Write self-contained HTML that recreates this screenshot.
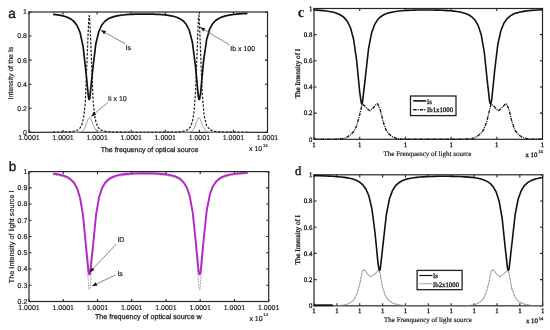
<!DOCTYPE html>
<html><head><meta charset="utf-8"><style>
html,body{margin:0;padding:0;background:#fff;}
svg{display:block;}
text{fill:#1a1a1a;text-rendering:geometricPrecision;}
.s7{font-family:"Liberation Sans",Arial,sans-serif;font-size:7px;stroke:#1a1a1a;stroke-width:0.18px;}
.s7l{font-family:"Liberation Sans",Arial,sans-serif;font-size:7.0px;stroke:#1a1a1a;stroke-width:0.25px;}
.sup{font-family:"Liberation Sans",Arial,sans-serif;font-size:4.3px;stroke:#1a1a1a;stroke-width:0.15px;}
.big{font-family:"Liberation Sans",Arial,sans-serif;font-size:13.5px;fill:#111;stroke:#111;stroke-width:0.3px;}
.t7{font-family:"Liberation Serif","Times New Roman",serif;font-size:6.8px;stroke:#1a1a1a;stroke-width:0.3px;}
.t7l{font-family:"Liberation Serif","Times New Roman",serif;font-size:7.0px;stroke:#1a1a1a;stroke-width:0.18px;}
.tsup{font-family:"Liberation Serif","Times New Roman",serif;font-size:4.5px;stroke:#1a1a1a;stroke-width:0.25px;}
.bigc{font-family:"Liberation Serif","Times New Roman",serif;font-size:15px;font-weight:bold;fill:#111;}
.bigd{font-family:"Liberation Serif","Times New Roman",serif;font-size:12.7px;fill:#111;stroke:#111;stroke-width:0.35px;}
path{fill:none;}
.isa{stroke:#111;stroke-width:1.7px;}
.ib{stroke:#1e1e1e;stroke-width:1.2px;stroke-dasharray:2.4,1.5;}
.ii{stroke:#999;stroke-width:0.9px;}
.isb{stroke:#666;stroke-width:0.8px;stroke-dasharray:0.8,0.8;}
.id{stroke:#b526c4;stroke-width:1.9px;}
.isc{stroke:#111;stroke-width:1.6px;}
.ibc{stroke:#1e1e1e;stroke-width:1.4px;stroke-dasharray:3.5,1,1,1;}
.ibd{stroke:#7a7a7a;stroke-width:1.1px;stroke-dasharray:1,0.5;}
</style></head><body>
<svg width="550" height="330" viewBox="0 0 550 330">
<rect width="550" height="330" fill="#fff"/>
<rect x="29" y="12" width="238.50" height="120.30" fill="none" stroke="#262626" stroke-width="1.2"/>
<path d="M29.00,132.3v-2.6M29.00,12v2.6M63.07,132.3v-2.6M63.07,12v2.6M97.14,132.3v-2.6M97.14,12v2.6M131.21,132.3v-2.6M131.21,12v2.6M165.29,132.3v-2.6M165.29,12v2.6M199.36,132.3v-2.6M199.36,12v2.6M233.43,132.3v-2.6M233.43,12v2.6M267.50,132.3v-2.6M267.50,12v2.6M29,132.30h2.6M267.5,132.30h-2.6M29,108.24h2.6M267.5,108.24h-2.6M29,84.18h2.6M267.5,84.18h-2.6M29,60.12h2.6M267.5,60.12h-2.6M29,36.06h2.6M267.5,36.06h-2.6M29,12.00h2.6M267.5,12.00h-2.6" stroke="#262626" stroke-width="1.1" fill="none"/>
<path class="ii" d="M53.00,132.30 56.02,132.30 59.03,132.30 62.05,132.30 65.07,132.30 68.08,132.30 71.10,132.30 74.11,132.30 77.13,132.30 80.15,132.20 82.68,131.25 84.82,128.08 87.83,119.66 89.00,117.56 89.58,117.26 90.17,117.53 93.18,124.93 96.01,130.76 99.02,132.19 102.04,132.30 105.05,132.30 108.07,132.30 111.09,132.30 114.10,132.30 117.12,132.30 120.14,132.30 123.15,132.30 126.17,132.30 129.18,132.30 132.20,132.30 135.22,132.30 138.23,132.30 141.25,132.30 144.27,132.30 147.28,132.30 150.30,132.30 153.31,132.30 156.33,132.30 159.35,132.30 162.36,132.30 165.38,132.30 168.40,132.30 171.41,132.30 174.43,132.30 177.44,132.30 180.46,132.30 183.48,132.30 186.49,132.30 189.51,132.20 192.14,131.23 194.37,127.83 197.39,119.59 198.46,117.86 199.05,117.63 199.73,118.05 202.74,125.56 205.47,130.86 208.48,132.20 211.50,132.30 214.52,132.30 217.53,132.30 220.55,132.30 223.56,132.30 226.58,132.30 229.60,132.30 232.61,132.30 235.63,132.30 238.65,132.30 241.66,132.30 244.68,132.30 247.50,132.30" />
<path class="ib" d="M53.00,132.22 56.02,132.19 59.03,132.16 62.05,132.10 65.07,132.02 68.08,131.89 71.10,131.66 74.11,131.22 77.13,130.27 80.15,127.86 82.09,124.05 83.75,116.96 85.30,102.32 88.32,28.61 88.90,17.57 89.10,15.99 89.20,15.66 89.29,15.64 89.49,16.53 90.27,30.82 93.09,100.79 95.13,119.09 97.56,126.66 100.58,129.85 103.60,131.04 106.61,131.57 109.63,131.84 112.64,131.99 115.66,132.08 118.68,132.14 121.69,132.18 124.71,132.20 127.73,132.22 130.74,132.23 133.76,132.24 136.77,132.25 139.79,132.25 142.81,132.25 145.82,132.25 148.84,132.25 151.86,132.25 154.87,132.24 157.89,132.23 160.90,132.22 163.92,132.20 166.94,132.17 169.95,132.13 172.97,132.07 175.99,131.97 179.00,131.80 182.02,131.50 185.03,130.89 188.05,129.50 190.58,126.59 192.43,121.55 193.99,112.29 195.54,92.12 198.36,19.41 198.66,16.23 198.75,15.76 198.85,15.61 198.95,15.76 199.24,18.08 202.26,93.91 204.20,115.98 206.54,125.41 209.55,129.44 212.57,130.87 215.59,131.49 218.60,131.80 221.62,131.97 224.63,132.07 227.65,132.13 230.67,132.18 233.68,132.21 236.70,132.23 239.72,132.24 242.73,132.25 245.75,132.26 247.50,132.26" />
<path class="isa" d="M53.00,14.30 56.02,14.66 59.03,15.11 62.05,15.70 65.07,16.49 68.08,17.59 71.10,19.18 74.11,21.62 77.13,25.63 80.15,32.79 83.16,46.84 86.18,74.28 88.42,96.82 88.90,98.94 89.20,99.39 89.39,99.32 89.78,98.34 92.80,69.02 95.81,43.98 98.83,31.43 101.84,24.97 104.86,21.32 107.88,19.08 110.89,17.61 113.91,16.61 116.93,15.89 119.94,15.37 122.96,14.98 125.97,14.69 128.99,14.47 132.01,14.31 135.02,14.19 138.04,14.11 141.06,14.06 144.07,14.04 147.09,14.06 150.10,14.10 153.12,14.18 156.14,14.29 159.15,14.45 162.17,14.66 165.19,14.94 168.20,15.32 171.22,15.82 174.23,16.51 177.25,17.47 180.27,18.87 183.28,20.99 186.30,24.43 189.32,30.44 192.33,41.99 195.35,65.23 198.36,96.50 198.95,99.05 199.14,99.35 199.34,99.37 199.63,98.85 200.60,92.94 203.62,60.56 206.63,39.56 209.65,29.15 212.67,23.64 215.68,20.43 218.70,18.42 221.72,17.07 224.73,16.12 227.75,15.42 230.76,14.90 233.78,14.50 236.80,14.17 239.81,13.92 242.83,13.70 245.85,13.53 247.50,13.44" />
<text class="s7" x="27.00" y="134.70" text-anchor="end" >0</text>
<text class="s7" x="27.00" y="110.64" text-anchor="end" >0.2</text>
<text class="s7" x="27.00" y="86.58" text-anchor="end" >0.4</text>
<text class="s7" x="27.00" y="62.52" text-anchor="end" >0.6</text>
<text class="s7" x="27.00" y="38.46" text-anchor="end" >0.8</text>
<text class="s7" x="27.00" y="14.40" text-anchor="end" >1</text>
<text class="s7" x="29.00" y="140.20" text-anchor="middle" >1.0001</text>
<text class="s7" x="63.07" y="140.20" text-anchor="middle" >1.0001</text>
<text class="s7" x="97.14" y="140.20" text-anchor="middle" >1.0001</text>
<text class="s7" x="131.21" y="140.20" text-anchor="middle" >1.0001</text>
<text class="s7" x="165.29" y="140.20" text-anchor="middle" >1.0001</text>
<text class="s7" x="199.36" y="140.20" text-anchor="middle" >1.0001</text>
<text class="s7" x="233.43" y="140.20" text-anchor="middle" >1.0001</text>
<text class="s7" x="267.50" y="140.20" text-anchor="middle" >1.0001</text>
<text class="s7l" x="149.50" y="152.30" text-anchor="middle" >The frequency of optical source</text>
<text class="s7" x="249.00" y="151.30" >x 10</text>
<text class="sup" x="262.90" y="146.60" >14</text>
<text class="s7" transform="translate(12.6,73.1) rotate(-90)" text-anchor="middle" style="font-size:7px">Intensity of the Is</text>
<text class="big" x="8.30" y="17.70" >a</text>
<line x1="125.2" y1="43.7" x2="100.9" y2="30.3" stroke="#555" stroke-width="0.7"/>
<polygon points="100.9,30.3 106.02,30.95 104.19,34.28" fill="#111"/>
<text class="s7" x="125.60" y="50.30" >Is</text>
<line x1="229.6" y1="45" x2="200.2" y2="27.3" stroke="#555" stroke-width="0.7"/>
<polygon points="200.2,27.3 205.29,28.15 203.33,31.40" fill="#111"/>
<text class="s7" x="230.20" y="50.70" >Ib x 100</text>
<line x1="108" y1="102.4" x2="91.2" y2="116.4" stroke="#555" stroke-width="0.7"/>
<polygon points="91.2,116.4 93.67,111.87 96.10,114.79" fill="#111"/>
<text class="s7" x="108.00" y="101.00" >Ii x 10</text>
<rect x="29" y="171.6" width="239.70" height="129.90" fill="none" stroke="#262626" stroke-width="1.2"/>
<path d="M29.00,301.5v-2.6M29.00,171.6v2.6M63.24,301.5v-2.6M63.24,171.6v2.6M97.49,301.5v-2.6M97.49,171.6v2.6M131.73,301.5v-2.6M131.73,171.6v2.6M165.97,301.5v-2.6M165.97,171.6v2.6M200.21,301.5v-2.6M200.21,171.6v2.6M234.46,301.5v-2.6M234.46,171.6v2.6M268.70,301.5v-2.6M268.70,171.6v2.6M29,301.50h2.6M268.7,301.50h-2.6M29,285.26h2.6M268.7,285.26h-2.6M29,269.02h2.6M268.7,269.02h-2.6M29,252.79h2.6M268.7,252.79h-2.6M29,236.55h2.6M268.7,236.55h-2.6M29,220.31h2.6M268.7,220.31h-2.6M29,204.07h2.6M268.7,204.07h-2.6M29,187.84h2.6M268.7,187.84h-2.6M29,171.60h2.6M268.7,171.60h-2.6" stroke="#262626" stroke-width="1.1" fill="none"/>
<path class="isb" d="M53.00,174.67 56.02,175.14 59.04,175.74 62.06,176.52 65.08,177.56 68.10,179.01 71.12,181.09 74.14,184.28 77.15,189.48 80.17,198.71 83.19,216.74 86.21,252.36 88.65,285.93 89.13,288.88 89.43,289.54 89.52,289.56 89.72,289.32 90.21,287.05 93.23,245.94 96.25,213.35 99.26,197.11 102.28,188.71 105.30,183.94 108.32,181.00 111.34,179.07 114.36,177.74 117.38,176.80 120.40,176.11 123.42,175.59 126.44,175.21 129.46,174.91 132.48,174.70 135.50,174.54 138.52,174.43 141.54,174.37 144.55,174.35 147.57,174.37 150.59,174.44 153.61,174.54 156.63,174.70 159.65,174.92 162.67,175.21 165.69,175.59 168.71,176.11 171.73,176.80 174.75,177.75 177.77,179.07 180.79,181.00 183.81,183.95 186.83,188.73 189.85,197.15 192.86,213.42 195.88,246.07 198.81,286.40 199.29,289.08 199.49,289.50 199.59,289.56 199.78,289.40 200.17,287.91 203.19,247.87 206.21,214.31 209.23,197.51 212.25,188.82 215.27,183.89 218.29,180.85 221.30,178.84 224.32,177.44 227.34,176.43 230.36,175.67 233.38,175.09 236.40,174.63 239.42,174.27 242.44,173.97 245.46,173.72 247.70,173.56" />
<path class="id" d="M53.00,173.65 56.02,174.04 59.04,174.55 62.06,175.25 65.08,176.21 68.10,177.59 71.12,179.66 74.14,182.93 77.15,188.42 80.17,198.29 83.19,216.83 86.21,248.41 88.55,271.61 89.13,273.98 89.43,274.39 89.62,274.36 90.01,273.58 93.03,245.53 96.05,214.92 99.07,197.32 102.09,187.95 105.11,182.72 108.13,179.60 111.15,177.63 114.17,176.32 117.19,175.41 120.21,174.77 123.22,174.30 126.24,173.96 129.26,173.71 132.28,173.52 135.30,173.39 138.32,173.30 141.34,173.25 144.36,173.23 147.38,173.24 150.40,173.29 153.42,173.38 156.44,173.50 159.46,173.68 162.48,173.93 165.50,174.26 168.51,174.70 171.53,175.32 174.55,176.18 177.57,177.43 180.59,179.30 183.61,182.24 186.63,187.12 189.65,195.80 192.67,212.04 195.69,241.05 198.61,271.38 199.20,273.89 199.49,274.37 199.68,274.38 199.97,273.96 200.75,270.32 203.77,237.99 206.79,210.14 209.81,194.74 212.83,186.49 215.85,181.80 218.87,178.96 221.89,177.13 224.91,175.89 227.93,175.02 230.95,174.39 233.97,173.91 236.99,173.55 240.01,173.27 243.02,173.04 246.04,172.86 247.70,172.77" />
<text class="s7" x="27.30" y="303.90" text-anchor="end" >0.2</text>
<text class="s7" x="27.30" y="287.66" text-anchor="end" >0.3</text>
<text class="s7" x="27.30" y="271.42" text-anchor="end" >0.4</text>
<text class="s7" x="27.30" y="255.19" text-anchor="end" >0.5</text>
<text class="s7" x="27.30" y="238.95" text-anchor="end" >0.6</text>
<text class="s7" x="27.30" y="222.71" text-anchor="end" >0.7</text>
<text class="s7" x="27.30" y="206.47" text-anchor="end" >0.8</text>
<text class="s7" x="27.30" y="190.24" text-anchor="end" >0.9</text>
<text class="s7" x="27.30" y="174.00" text-anchor="end" >1</text>
<text class="s7" x="29.00" y="309.90" text-anchor="middle" >1.0001</text>
<text class="s7" x="63.24" y="309.90" text-anchor="middle" >1.0001</text>
<text class="s7" x="97.49" y="309.90" text-anchor="middle" >1.0001</text>
<text class="s7" x="131.73" y="309.90" text-anchor="middle" >1.0001</text>
<text class="s7" x="165.97" y="309.90" text-anchor="middle" >1.0001</text>
<text class="s7" x="200.21" y="309.90" text-anchor="middle" >1.0001</text>
<text class="s7" x="234.46" y="309.90" text-anchor="middle" >1.0001</text>
<text class="s7" x="268.70" y="309.90" text-anchor="middle" >1.0001</text>
<text class="s7l" x="148.40" y="318.60" text-anchor="middle" style="font-size:7.15px">The frequency of optical source w</text>
<text class="s7" x="249.40" y="321.00" >x 10</text>
<text class="sup" x="263.30" y="316.20" >14</text>
<text class="s7" transform="translate(13.6,236.8) rotate(-90)" text-anchor="middle" style="font-size:7.25px">The Intensity of light source I</text>
<text class="big" x="8.80" y="171.40" >b</text>
<line x1="116.4" y1="243.8" x2="89.8" y2="272.3" stroke="#555" stroke-width="0.7"/>
<polygon points="89.8,272.3 91.69,267.49 94.46,270.09" fill="#111"/>
<text class="s7" x="117.40" y="241.80" >ID</text>
<line x1="115.4" y1="274.9" x2="92.2" y2="286.1" stroke="#555" stroke-width="0.7"/>
<polygon points="92.2,286.1 95.70,282.30 97.35,285.72" fill="#111"/>
<text class="s7" x="117.40" y="275.70" >Is</text>
<rect x="314" y="8.5" width="228.50" height="130.80" fill="none" stroke="#262626" stroke-width="1.2"/>
<path d="M314.00,139.3v-2.6M314.00,8.5v2.6M359.70,139.3v-2.6M359.70,8.5v2.6M405.40,139.3v-2.6M405.40,8.5v2.6M451.10,139.3v-2.6M451.10,8.5v2.6M496.80,139.3v-2.6M496.80,8.5v2.6M542.50,139.3v-2.6M542.50,8.5v2.6M314,139.30h2.6M542.5,139.30h-2.6M314,113.14h2.6M542.5,113.14h-2.6M314,86.98h2.6M542.5,86.98h-2.6M314,60.82h2.6M542.5,60.82h-2.6M314,34.66h2.6M542.5,34.66h-2.6M314,8.50h2.6M542.5,8.50h-2.6" stroke="#262626" stroke-width="1.1" fill="none"/>
<path class="ibc" d="M314.00,139.30 317.05,139.30 320.10,139.30 323.14,139.30 326.19,139.28 329.24,139.24 332.29,139.17 335.34,139.09 338.38,138.97 341.43,138.67 344.48,138.15 347.53,136.94 350.58,134.76 353.62,131.55 356.67,125.78 359.72,114.73 362.01,104.54 362.29,104.03 365.34,106.41 368.39,109.80 369.82,110.65 372.86,108.23 375.91,104.66 377.15,103.74 377.63,103.84 380.01,108.75 383.05,121.37 386.10,130.24 389.15,134.13 392.20,136.48 395.25,138.01 398.29,138.62 401.34,139.02 404.39,139.18 407.44,139.22 410.49,139.25 413.53,139.27 416.58,139.29 419.63,139.30 422.68,139.30 425.73,139.30 428.77,139.30 431.82,139.30 434.87,139.30 437.92,139.30 440.97,139.30 444.01,139.30 447.06,139.30 450.11,139.30 453.16,139.29 456.21,139.26 459.25,139.21 462.30,139.14 465.35,139.05 468.40,138.87 471.44,138.48 474.49,137.85 477.54,136.12 480.59,133.66 483.64,129.67 486.68,121.83 489.73,109.42 490.88,104.37 491.16,103.99 494.21,106.49 497.26,109.87 498.59,110.65 501.64,108.26 504.69,104.69 505.92,103.74 506.40,103.82 508.78,108.68 511.83,121.27 514.88,130.19 517.93,134.11 520.97,136.46 524.02,138.00 527.07,138.62 530.12,139.02 533.17,139.17 536.21,139.22 539.26,139.25 542.31,139.27 542.50,139.27" />
<path class="isc" d="M314.00,9.93 317.05,10.12 320.10,10.35 323.14,10.63 326.19,10.98 329.24,11.44 332.29,12.03 335.34,12.83 338.38,13.93 341.43,15.51 344.48,17.89 347.53,21.65 350.58,28.01 353.62,39.51 356.67,60.76 359.72,92.11 361.15,102.35 361.62,103.63 361.81,103.77 362.01,103.71 362.39,102.95 365.43,76.85 368.48,49.11 371.53,33.20 374.58,24.62 377.63,19.72 380.67,16.74 383.72,14.82 386.77,13.51 389.82,12.60 392.87,11.93 395.91,11.43 398.96,11.06 402.01,10.77 405.06,10.55 408.11,10.38 411.15,10.24 414.20,10.14 417.25,10.07 420.30,10.02 423.34,9.99 426.39,9.98 429.44,9.99 432.49,10.02 435.54,10.08 438.58,10.15 441.63,10.26 444.68,10.40 447.73,10.58 450.78,10.81 453.82,11.11 456.87,11.50 459.92,12.01 462.97,12.71 466.02,13.67 469.06,15.05 472.11,17.09 475.16,20.28 478.21,25.56 481.26,34.91 484.30,52.29 487.35,81.56 489.54,101.17 490.11,103.34 490.40,103.75 490.59,103.75 490.88,103.37 491.73,99.52 494.78,69.47 497.83,44.51 500.88,30.70 503.92,23.18 506.97,18.81 510.02,16.11 513.07,14.34 516.12,13.12 519.16,12.24 522.21,11.60 525.26,11.11 528.31,10.72 531.36,10.42 534.40,10.18 537.45,9.98 540.50,9.82 542.50,9.72" />
<text class="t7" x="312.30" y="141.60" text-anchor="end" >0</text>
<text class="t7" x="312.30" y="115.44" text-anchor="end" >0.2</text>
<text class="t7" x="312.30" y="89.28" text-anchor="end" >0.4</text>
<text class="t7" x="312.30" y="63.12" text-anchor="end" >0.6</text>
<text class="t7" x="312.30" y="36.96" text-anchor="end" >0.8</text>
<text class="t7" x="312.30" y="10.80" text-anchor="end" >1</text>
<text class="t7" x="314.00" y="146.80" text-anchor="middle" >1</text>
<text class="t7" x="359.70" y="146.80" text-anchor="middle" >1</text>
<text class="t7" x="405.40" y="146.80" text-anchor="middle" >1</text>
<text class="t7" x="451.10" y="146.80" text-anchor="middle" >1</text>
<text class="t7" x="496.80" y="146.80" text-anchor="middle" >1</text>
<text class="t7" x="542.50" y="146.80" text-anchor="middle" >1</text>
<text class="t7l" x="427.50" y="155.50" text-anchor="middle" >The Frenquency of light source</text>
<text class="t7" x="525.50" y="157.00" >x 10</text>
<text class="tsup" x="538.30" y="153.30" >14</text>
<text class="t7" transform="translate(300.1,73.6) rotate(-90)" text-anchor="middle" style="font-size:7.1px">The Intensity of I</text>
<text class="bigc" x="297.80" y="16.80" >c</text>
<rect x="410.5" y="96" width="45.5" height="19.6" fill="#fff" stroke="#222" stroke-width="1.3"/>
<path class="isc" d="M413.2,100.9H426.3"/>
<path class="ibc" d="M413.2,109.8H426.3"/>
<text class="t7" x="427.00" y="104.00" >Is</text>
<text class="t7" x="427.00" y="112.40" >Ib1x1000</text>
<rect x="314" y="174.8" width="228.70" height="131.00" fill="none" stroke="#262626" stroke-width="1.2"/>
<path d="M314.00,305.8v-2.6M314.00,174.8v2.6M336.87,305.8v-2.6M336.87,174.8v2.6M359.74,305.8v-2.6M359.74,174.8v2.6M382.61,305.8v-2.6M382.61,174.8v2.6M405.48,305.8v-2.6M405.48,174.8v2.6M428.35,305.8v-2.6M428.35,174.8v2.6M451.22,305.8v-2.6M451.22,174.8v2.6M474.09,305.8v-2.6M474.09,174.8v2.6M496.96,305.8v-2.6M496.96,174.8v2.6M519.83,305.8v-2.6M519.83,174.8v2.6M542.70,305.8v-2.6M542.70,174.8v2.6M314,305.80h2.6M542.7,305.80h-2.6M314,279.60h2.6M542.7,279.60h-2.6M314,253.40h2.6M542.7,253.40h-2.6M314,227.20h2.6M542.7,227.20h-2.6M314,201.00h2.6M542.7,201.00h-2.6M314,174.80h2.6M542.7,174.80h-2.6" stroke="#262626" stroke-width="1.1" fill="none"/>
<path class="ibd" d="M314.00,305.80 317.05,305.80 320.10,305.80 323.15,305.79 326.20,305.78 329.25,305.76 332.30,305.73 335.35,305.70 338.40,305.64 341.46,305.35 344.51,304.84 347.56,304.10 350.61,302.46 353.66,300.00 356.71,294.32 359.76,284.01 361.95,272.80 363.29,269.89 363.67,269.65 365.10,270.50 368.15,274.75 370.72,276.68 373.77,274.80 376.82,271.87 379.02,270.33 379.30,270.30 379.49,270.57 382.54,287.52 385.59,295.95 388.64,300.33 391.70,302.55 394.75,303.82 397.80,304.60 400.85,305.18 403.90,305.52 406.95,305.62 410.00,305.70 413.05,305.75 416.10,305.79 419.15,305.80 422.20,305.80 425.25,305.80 428.30,305.80 431.35,305.80 434.40,305.80 437.45,305.80 440.50,305.80 443.56,305.80 446.61,305.80 449.66,305.80 452.71,305.79 455.76,305.78 458.81,305.76 461.86,305.73 464.91,305.69 467.96,305.60 471.01,305.26 474.06,304.70 477.11,303.83 480.16,302.03 483.21,299.24 486.26,292.52 489.31,280.77 490.84,272.83 492.17,269.90 492.56,269.65 493.89,270.38 496.94,274.62 499.61,276.68 502.66,274.81 505.71,271.88 507.90,270.33 508.19,270.30 508.29,270.35 508.67,271.72 511.72,288.49 514.77,296.51 517.82,300.61 520.87,302.69 523.92,303.91 526.97,304.66 530.02,305.22 533.07,305.53 536.12,305.63 539.17,305.70 542.22,305.76 542.70,305.76" />
<path class="isc" d="M314.00,175.60 317.05,175.67 320.10,175.75 323.15,175.85 326.20,175.97 329.25,176.10 332.30,176.26 335.35,176.46 338.40,176.70 341.46,176.99 344.51,177.36 347.56,177.84 350.61,178.47 353.66,179.32 356.71,180.49 359.76,182.20 362.81,184.79 365.86,188.94 368.91,196.04 371.96,209.03 375.01,232.77 378.06,263.76 379.02,269.23 379.40,270.10 379.59,270.22 379.78,270.13 380.26,268.98 383.31,241.94 386.36,214.61 389.41,199.07 392.46,190.67 395.51,185.88 398.56,182.95 401.61,181.06 404.66,179.77 407.71,178.87 410.76,178.21 413.81,177.72 416.86,177.35 419.91,177.06 422.96,176.84 426.01,176.67 429.06,176.54 432.12,176.44 435.17,176.37 438.22,176.32 441.27,176.29 444.32,176.28 447.37,176.29 450.42,176.32 453.47,176.38 456.52,176.46 459.57,176.56 462.62,176.70 465.67,176.88 468.72,177.11 471.77,177.41 474.82,177.81 477.87,178.33 480.93,179.03 483.98,180.00 487.03,181.39 490.08,183.46 493.13,186.68 496.18,192.04 499.23,201.55 502.28,219.24 505.33,248.82 507.52,268.02 508.09,269.95 508.38,270.22 508.57,270.14 509.05,269.01 512.10,241.99 515.15,214.62 518.20,199.04 521.25,190.61 524.30,185.79 527.35,182.84 530.40,180.93 533.45,179.62 536.50,178.69 539.55,178.01 542.60,177.49 542.70,177.48" />
<path d="M314,305.2H332.7" stroke="#111" stroke-width="1.8"/>
<text class="t7" x="312.30" y="308.10" text-anchor="end" >0</text>
<text class="t7" x="312.30" y="281.90" text-anchor="end" >0.2</text>
<text class="t7" x="312.30" y="255.70" text-anchor="end" >0.4</text>
<text class="t7" x="312.30" y="229.50" text-anchor="end" >0.6</text>
<text class="t7" x="312.30" y="203.30" text-anchor="end" >0.8</text>
<text class="t7" x="312.30" y="177.10" text-anchor="end" >1</text>
<text class="t7" x="314.00" y="313.30" text-anchor="middle" >1</text>
<text class="t7" x="336.87" y="313.30" text-anchor="middle" >1</text>
<text class="t7" x="359.74" y="313.30" text-anchor="middle" >1</text>
<text class="t7" x="382.61" y="313.30" text-anchor="middle" >1</text>
<text class="t7" x="405.48" y="313.30" text-anchor="middle" >1</text>
<text class="t7" x="428.35" y="313.30" text-anchor="middle" >1</text>
<text class="t7" x="451.22" y="313.30" text-anchor="middle" >1</text>
<text class="t7" x="474.09" y="313.30" text-anchor="middle" >1</text>
<text class="t7" x="496.96" y="313.30" text-anchor="middle" >1</text>
<text class="t7" x="519.83" y="313.30" text-anchor="middle" >1</text>
<text class="t7" x="542.70" y="313.30" text-anchor="middle" >1</text>
<text class="t7l" x="428.00" y="322.00" text-anchor="middle" >The Frenquency of light source</text>
<text class="t7" x="526.00" y="323.40" >x 10</text>
<text class="tsup" x="538.80" y="319.70" >14</text>
<text class="t7" transform="translate(300.3,239.8) rotate(-90)" text-anchor="middle" style="font-size:7.1px">The Intensity of I</text>
<text class="bigd" x="295.00" y="174.50" >d</text>
<rect x="417.1" y="270.4" width="45" height="19.3" fill="#fff" stroke="#222" stroke-width="1.3"/>
<path class="isc" d="M419.3,275.5H432.4" style="stroke-width:1.2"/>
<path class="ibd" d="M419.3,283.8H432.4"/>
<text class="t7" x="433.00" y="278.00" >Is</text>
<text class="t7" x="433.00" y="286.70" >Ib2x1000</text>
</svg>
</body></html>
